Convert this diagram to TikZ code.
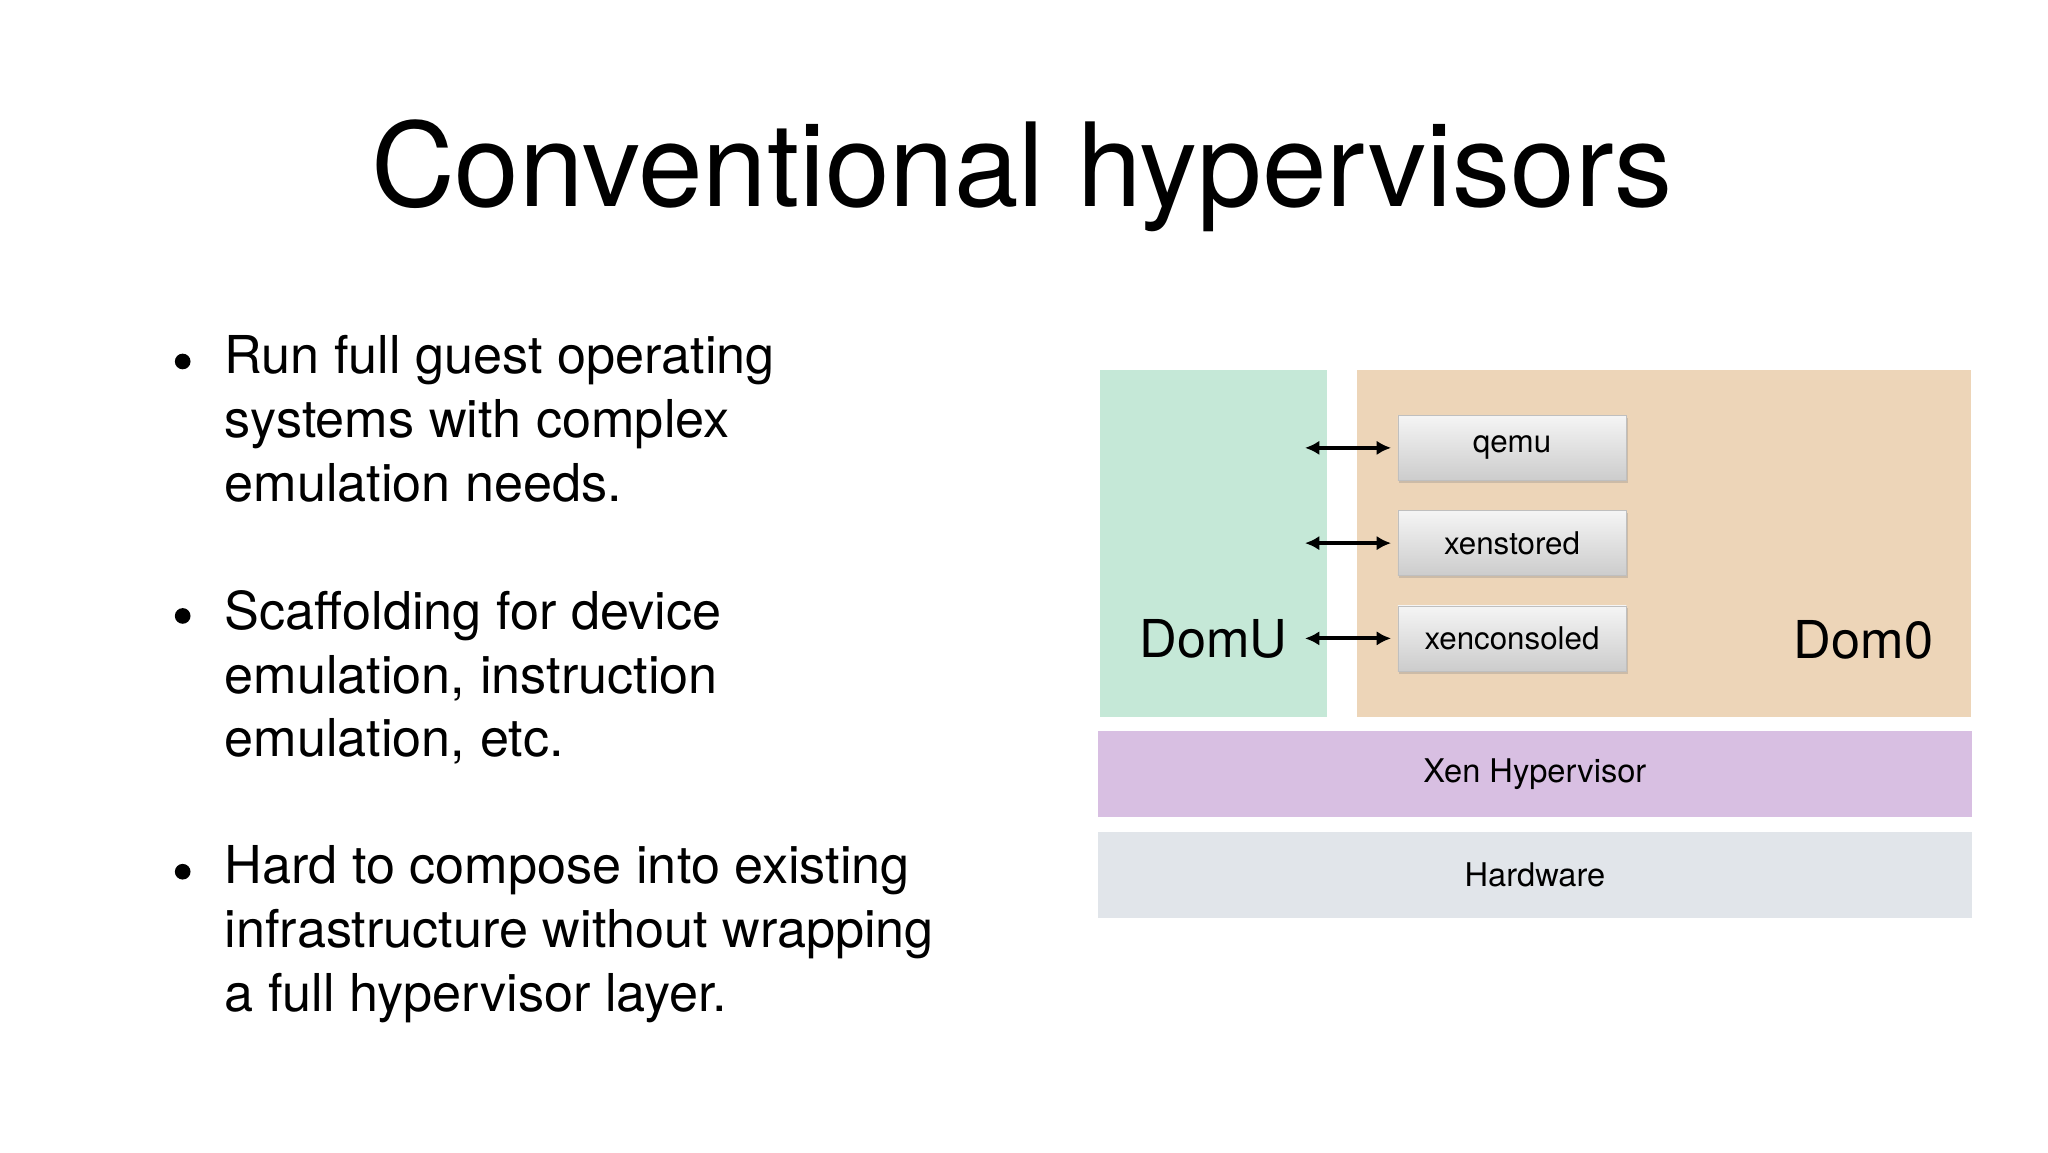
\documentclass[tikz,border=0pt]{standalone}
\usepackage{fontspec}
\setmainfont{TeX Gyre Heros}
\usetikzlibrary{shadows,arrows.meta}
\definecolor{domu}{HTML}{C5E8D7}
\definecolor{domz}{HTML}{EDD5B8}
\definecolor{xen}{HTML}{D8BFE2}
\definecolor{hw}{HTML}{E1E5EA}
\begin{document}
\begin{tikzpicture}[x=1pt,y=-1pt,
  layer/.style={draw=none,anchor=north west,inner sep=0pt},
  proc/.style={anchor=north west,minimum width=175pt,minimum height=50pt,inner sep=0pt,
    top color=white!96!black,bottom color=white!80!black,draw=white!75!black,line width=0.4pt,
    drop shadow={shadow xshift=1pt,shadow yshift=-2pt,opacity=0.3},
    font=\fontsize{24}{28}\selectfont},
  biarrow/.style={{Latex[length=11pt,width=11pt]}-{Latex[length=11pt,width=11pt]},line width=3pt},
  bullet/.style={anchor=north west,align=left,inner sep=0pt,font=\fontsize{40}{49}\selectfont}]
\useasboundingbox[fill=white] (0,0) rectangle (1569.4,882.8);
\node[anchor=base,font=\fontsize{89}{100}\selectfont] (title) at (783,158) {Conventional hypervisors};
\node[bullet] (b1) at (172,257) {Run full guest operating\\systems with complex\\emulation needs.};
\node[bullet] (b2) at (172,452) {Scaffolding for device\\emulation, instruction\\emulation, etc.};
\node[bullet] (b3) at (172,648) {Hard to compose into existing\\infrastructure without wrapping\\a full hypervisor layer.};
\foreach \y in {277,472,668} \fill (140,\y) circle (6pt);
\node[layer,fill=domu,minimum width=174pt,minimum height=266pt] (domu) at (843,283) {};
\node[layer,fill=domz,minimum width=470pt,minimum height=266pt] (dom0) at (1040,283) {};
\node[layer,fill=xen,minimum width=670pt,minimum height=66pt] (xenh) at (841,560) {};
\node[layer,fill=hw,minimum width=670pt,minimum height=66pt] (hwn) at (841,637) {};
\node[font=\fontsize{25}{28}\selectfont] (xenl) at (xenh.center) {Xen Hypervisor};
\node[font=\fontsize{25}{28}\selectfont] (hwl) at (hwn.center) {Hardware};
\node[font=\fontsize{40}{44}\selectfont] (domul) at (930,490) {DomU};
\node[font=\fontsize{40}{44}\selectfont] (dom0l) at (1428,490) {Dom0};
\node[proc] (qemu) at (1071,318) {qemu};
\node[proc] (xs) at (1071,391) {xenstored};
\node[proc] (xc) at (1071,464) {xenconsoled};
\foreach \b/\n in {qemu/a1,xs/a2,xc/a3}{
  \coordinate (\n) at ([xshift=-71pt]\b.west);
  \draw[biarrow] (\n) -- ([xshift=-5pt]\b.west);
}
\end{tikzpicture}
\end{document}
